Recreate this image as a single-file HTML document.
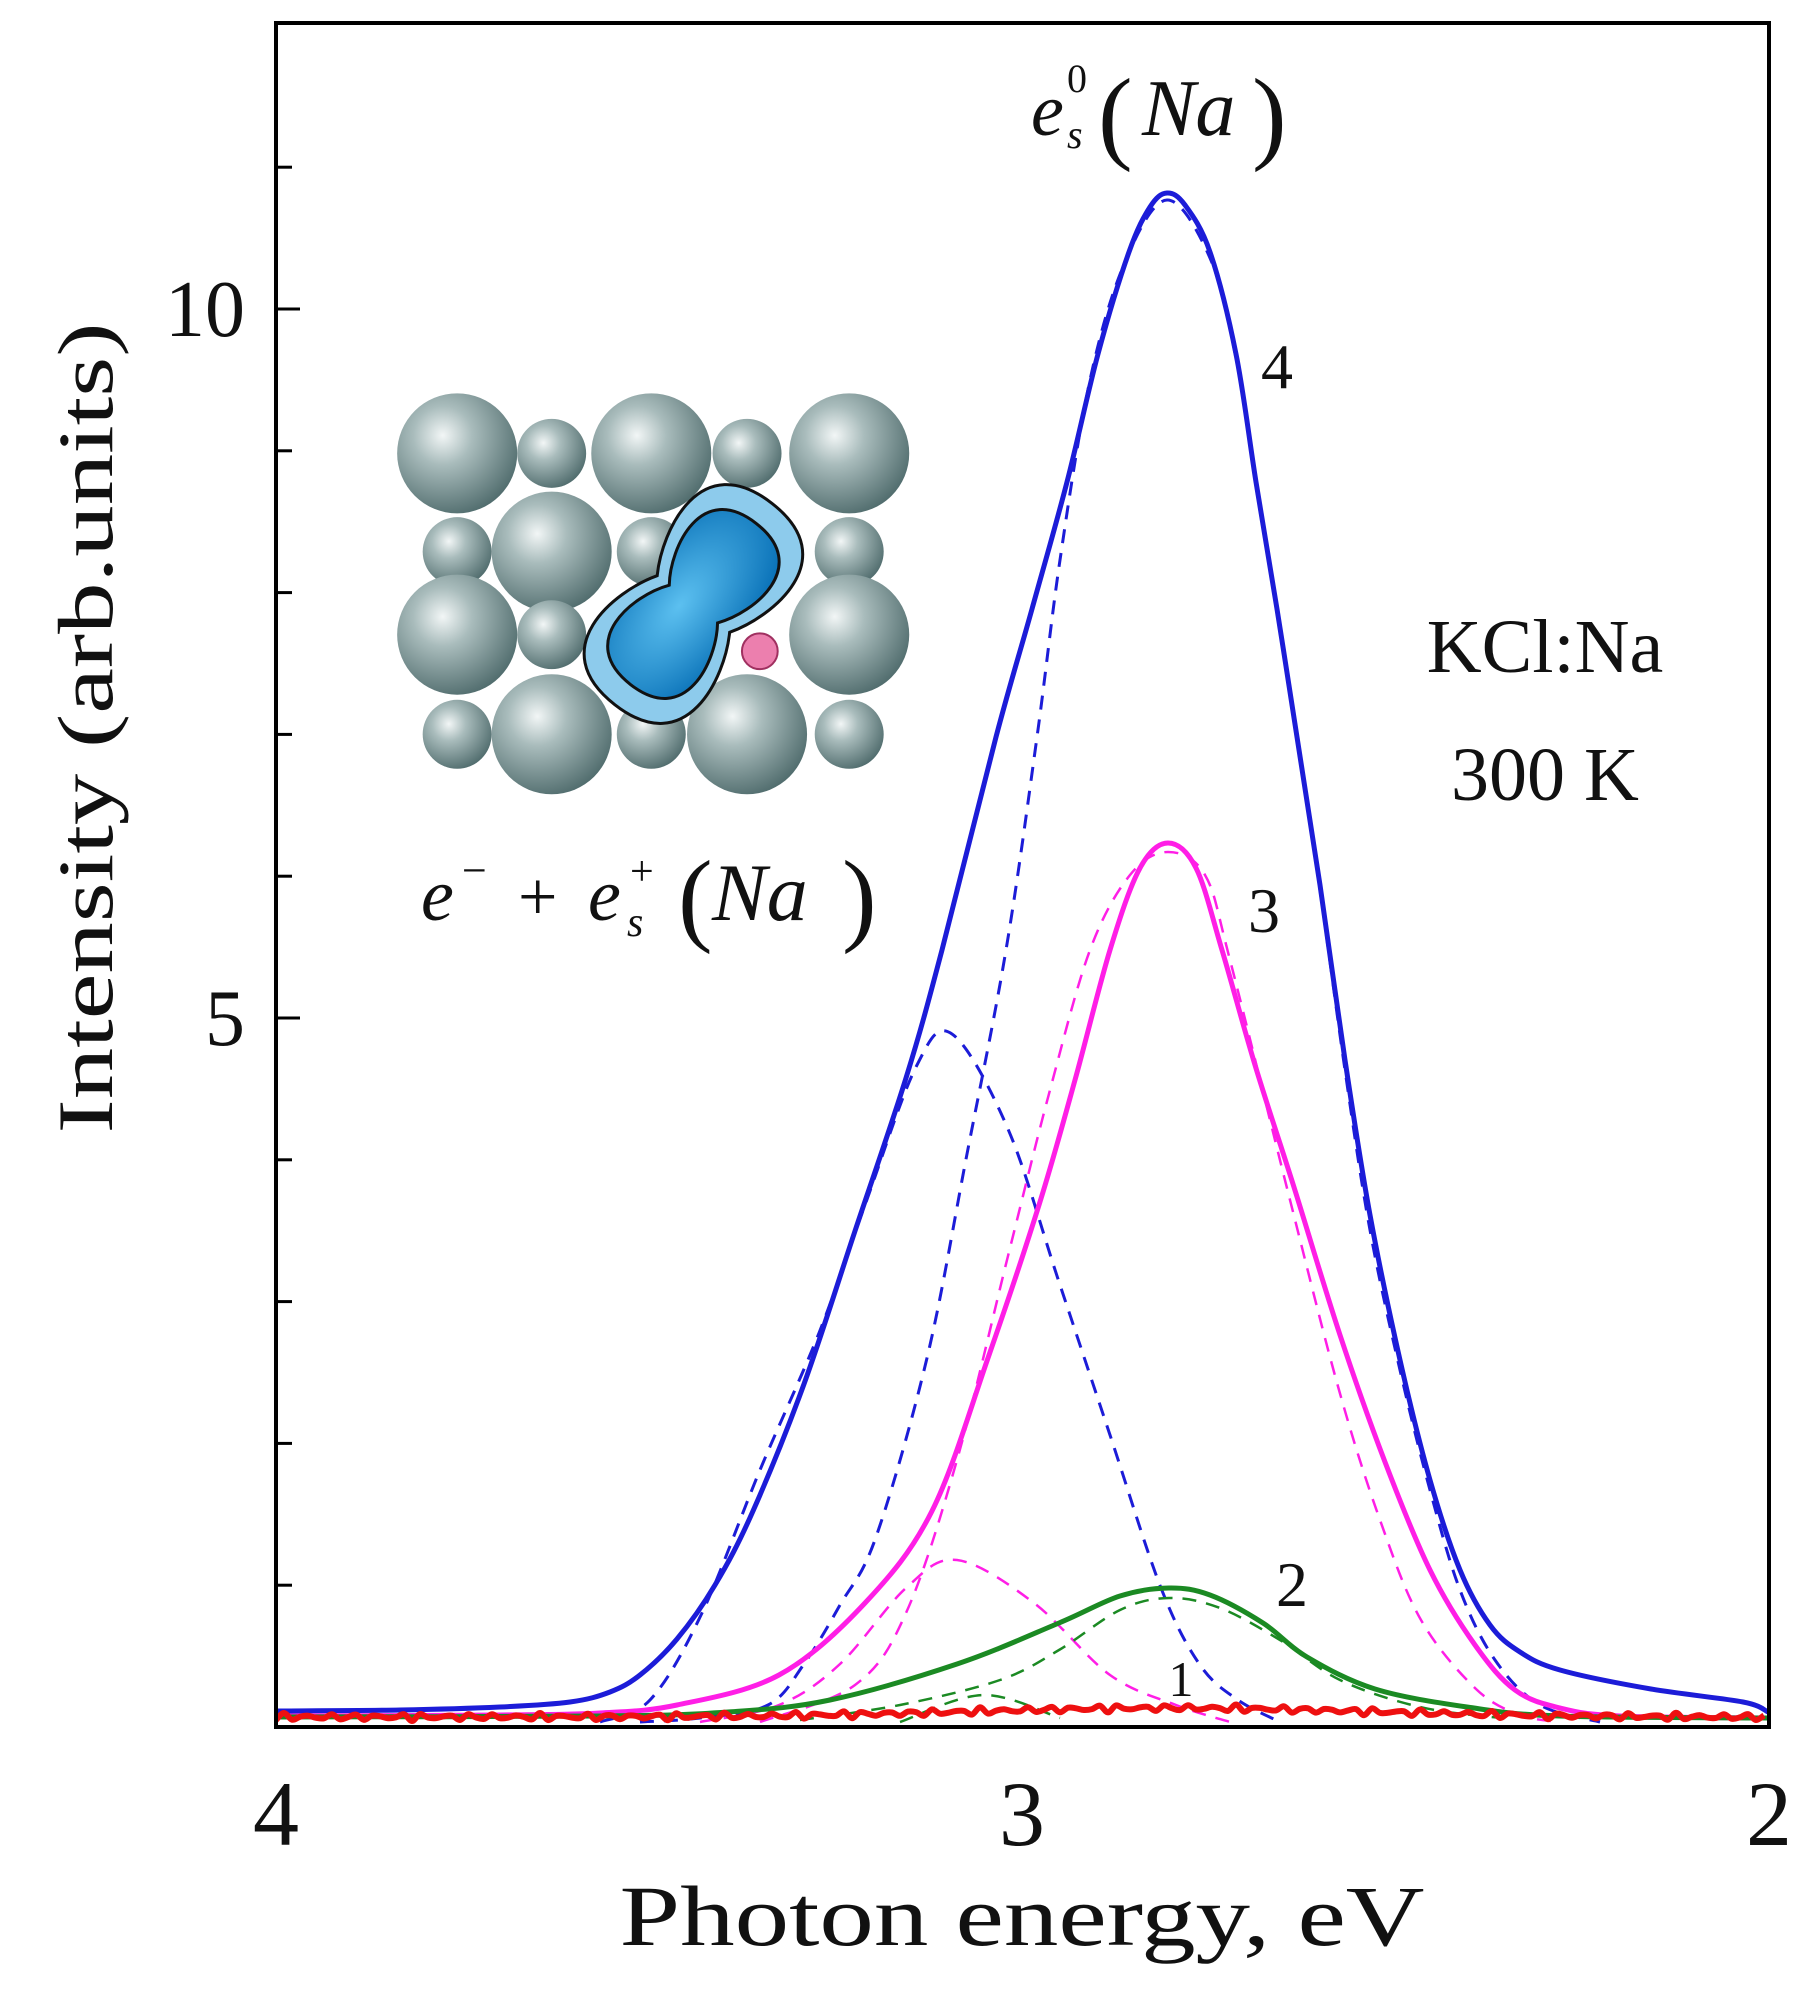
<!DOCTYPE html>
<html><head><meta charset="utf-8"><style>
html,body{margin:0;padding:0;background:#fff;}
svg{display:block;}
text{font-family:"Liberation Serif",serif;fill:#111;}
</style></head><body>
<svg id="s" width="1820" height="2004" viewBox="0 0 1820 2004" xmlns="http://www.w3.org/2000/svg">
<defs>
<radialGradient id="sph" cx="0.38" cy="0.35" r="0.7">
<stop offset="0" stop-color="#f2f6f6"/><stop offset="0.35" stop-color="#a9bcbc"/><stop offset="1" stop-color="#4f6b6c"/>
</radialGradient>
<radialGradient id="blob" cx="0.45" cy="0.4" r="0.7">
<stop offset="0" stop-color="#5cc0f0"/><stop offset="1" stop-color="#0a72b8"/>
</radialGradient>
</defs>
<rect width="1820" height="2004" fill="#fff"/>
<g id="inset"></g>
<g id="curves" fill="none"></g>
<rect x="276" y="23" width="1493" height="1704" fill="none" stroke="#000" stroke-width="4"/>
<g id="ticks" stroke="#000" stroke-width="3"></g>
<text x="245" y="336" font-size="80" text-anchor="end">10</text>
<text x="245" y="1045" font-size="80" text-anchor="end">5</text>
<text x="276" y="1845" font-size="92" text-anchor="middle">4</text>
<text x="1022" y="1845" font-size="92" text-anchor="middle">3</text>
<text x="1769" y="1845" font-size="92" text-anchor="middle">2</text>
<text x="1022" y="1945" font-size="86" text-anchor="middle" textLength="805" lengthAdjust="spacingAndGlyphs">Photon energy, eV</text>
<text transform="translate(112,728) rotate(-90)" font-size="78" text-anchor="middle" textLength="811" lengthAdjust="spacingAndGlyphs">Intensity (arb.units)</text>
<text x="1545" y="672" font-size="76" text-anchor="middle">KCl:Na</text>
<text x="1545" y="800" font-size="76" text-anchor="middle">300 K</text>
<text x="1277" y="388" font-size="64" text-anchor="middle">4</text>
<text x="1264" y="932" font-size="64" text-anchor="middle">3</text>
<text x="1292" y="1606" font-size="64" text-anchor="middle">2</text>
<text x="1181" y="1696" font-size="50" text-anchor="middle">1</text>
<text x="1031" y="135" font-size="74" font-style="italic">e</text>
<text x="1067" y="92" font-size="40">0</text>
<text x="1067" y="148" font-size="40" font-style="italic">s</text>
<text x="1098" y="150" font-size="104">(</text>
<text x="1142" y="135" font-size="80" font-style="italic">Na</text>
<text x="1252" y="150" font-size="104">)</text>
<text x="421" y="920" font-size="74" font-style="italic">e</text>
<text x="462" y="885" font-size="44">−</text>
<text x="518" y="920" font-size="70">+</text>
<text x="588" y="920" font-size="74" font-style="italic">e</text>
<text x="630" y="885" font-size="42">+</text>
<text x="627" y="936" font-size="42" font-style="italic">s</text>
<text x="678" y="932" font-size="104">(</text>
<text x="712" y="920" font-size="82" font-style="italic">Na</text>
<text x="842" y="932" font-size="104">)</text>
</svg>
<script>
const NS="http://www.w3.org/2000/svg";
function el(p,t,a){const e=document.createElementNS(NS,t);for(const k in a)e.setAttribute(k,a[k]);p.appendChild(e);return e;}
const k=1.277;
const ins=document.getElementById('inset');
const rows=[355,432,497,575], cols=[358,432,510,585,665];
const B=47*k,S=27*k;
const pattern=[[1,0,1,0,1],[0,1,0,-1,0],[1,0,-1,-1,1],[0,1,0,1,0]];
for(let r=0;r<4;r++)for(let c=0;c<5;c++){const t=pattern[r][c];if(t<0)continue;
el(ins,'circle',{cx:cols[c]*k,cy:rows[r]*k,r:t?B:S,fill:'url(#sph)'});}
function db(L,E,W){return `M${-L},0 C${-L},${-E*1.3} ${-L*0.3},${-E} 0,${-W} C${L*0.3},${-E} ${L},${-E*1.3} ${L},0 C${L},${E*1.3} ${L*0.3},${E} 0,${W} C${-L*0.3},${E} ${-L},${E*1.3} ${-L},0Z`;}
const g=el(ins,'g',{transform:`translate(${543*k},${473*k}) rotate(-52)`});
el(g,'path',{d:db(100*k,55*k,36*k),fill:'#8dcbec',stroke:'#111','stroke-width':3});
el(g,'path',{d:db(80*k,42*k,24*k),fill:'url(#blob)',stroke:'#111','stroke-width':3});
el(ins,'circle',{cx:595*k,cy:510*k,r:14*k,fill:'#ec7fae',stroke:'#a03060','stroke-width':2});
const tk=document.getElementById('ticks');
const y0=1727,u=141.8;
for(let i=1;i<=11;i++){const y=y0-i*u;el(tk,'line',{x1:276,y1:y,x2:(i%5==0?300:292),y2:y});}
const cv=document.getElementById('curves');
function spline(P){let d=`M${P[0][0]},${P[0][1]}`;for(let i=0;i<P.length-1;i++){const p0=P[Math.max(i-1,0)],p1=P[i],p2=P[i+1],p3=P[Math.min(i+2,P.length-1)];
const c1=[p1[0]+(p2[0]-p0[0])/6,p1[1]+(p2[1]-p0[1])/6],c2=[p2[0]-(p3[0]-p1[0])/6,p2[1]-(p3[1]-p1[1])/6];
d+=` C${c1[0].toFixed(1)},${c1[1].toFixed(1)} ${c2[0].toFixed(1)},${c2[1].toFixed(1)} ${p2[0]},${p2[1]}`;}return d;}
function draw(P,col,w,dash){const a={d:spline(P),stroke:col,'stroke-width':w};if(dash)a['stroke-dasharray']=dash;el(cv,'path',a);}
const blue='#1c1cd8',mag='#ff1ee6',grn='#1b8a23',red='#ee1010',DS='14 10';
draw([[640,1722],[700,1718],[768,1705],[804,1664],[840,1605],[876,1537],[927,1358],[967,1154],[1006,950],[1037,737],[1060,560],[1090,380],[1125,262],[1167,200],[1210,258],[1236,358],[1256,486],[1277,613],[1297,741],[1320,890],[1345,1070],[1370,1230],[1400,1370],[1430,1490],[1460,1590],[1495,1660],[1540,1705],[1600,1722]],blue,3,DS);
draw([[600,1722],[650,1700],[702,1613],[760,1470],[819,1333],[865,1205],[916,1067],[952,1034],[1008,1129],[1059,1282],[1110,1435],[1161,1588],[1200,1665],[1238,1700],[1280,1722]],blue,3,DS);
draw([[760,1722],[855,1685],[906,1613],[957,1460],[1008,1256],[1050,1090],[1090,950],[1130,875],[1168,852],[1205,875],[1230,960],[1290,1200],[1339,1390],[1380,1520],[1421,1620],[1476,1689],[1520,1715],[1560,1722]],mag,2.5,DS);
draw([[700,1722],[779,1705],[840,1664],[906,1588],[957,1560],[1034,1603],[1110,1675],[1176,1705],[1230,1722]],mag,2.5,DS);
draw([[800,1720],[900,1705],[1000,1680],[1059,1650],[1120,1610],[1169,1598],[1220,1608],[1280,1640],[1340,1680],[1420,1707],[1500,1718]],grn,2.5,DS);
draw([[900,1722],[983,1695],[1060,1718]],grn,2.5,DS);
draw([[276,1711],[400,1710],[500,1707],[570,1702],[610,1692],[640,1675],[677,1639],[715,1585],[753,1511],[804,1384],[855,1231],[906,1078],[942,950],[996,737],[1032,609],[1067,482],[1098,354],[1129,252],[1150,207],[1167,193],[1185,205],[1210,252],[1236,354],[1256,482],[1277,609],[1297,737],[1320,885],[1345,1060],[1370,1215],[1400,1360],[1430,1480],[1460,1570],[1490,1625],[1520,1652],[1560,1670],[1651,1689],[1743,1702],[1768,1712]],blue,5);
draw([[276,1716],[500,1715],[600,1713],[677,1705],[779,1675],[865,1603],[932,1511],[988,1358],[1039,1205],[1075,1080],[1110,950],[1140,868],[1168,843],[1196,868],[1222,950],[1255,1065],[1293,1184],[1340,1335],[1385,1462],[1430,1570],[1475,1645],[1515,1690],[1560,1708],[1620,1716],[1768,1718]],mag,5);
draw([[276,1717],[600,1716],[728,1712],[830,1700],[957,1664],[1059,1623],[1120,1596],[1169,1588],[1210,1595],[1263,1623],[1307,1657],[1375,1689],[1467,1707],[1559,1716],[1768,1718]],grn,5);
let rp=[];for(let x=276;x<=1768;x+=8){const d=x-1170;const y=1717-9*Math.exp(-d*d/(2*200*200))+2.5*Math.sin(x*1.3)+1.5*Math.sin(x*0.37);rp.push([x,+y.toFixed(1)]);}
draw(rp,red,6);
</script>
</body></html>
